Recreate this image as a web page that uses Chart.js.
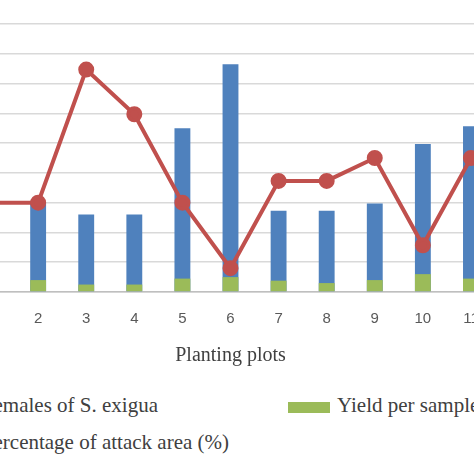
<!DOCTYPE html>
<html><head><meta charset="utf-8">
<script src="https://cdn.jsdelivr.net/npm/chart.js@4"></script>
<style>
html,body{margin:0;width:474px;height:474px;overflow:hidden;background:#fff;position:relative}
#wrap{position:absolute;left:-44px;top:0;width:549px;height:372px}
.lg{position:absolute;font-family:"Liberation Serif",serif;font-size:21px;color:#404040;white-space:nowrap}
.box{position:absolute;width:42px;height:11px;background:#9BBB59}
</style></head><body>
<div id="wrap"><canvas id="c"></canvas></div>
<div class="lg" style="right:316px;top:393px">Number of females of S. exigua</div>
<div class="box" style="left:288px;top:402px"></div>
<div class="lg" style="left:337px;top:393px">Yield per sample (kg)</div>
<div class="lg" style="right:282px;top:430px;transform:translateX(37px)">Percentage of attack area (%)</div>
<script>
const categories=["1","2","3","4","5","6","7","8","9","10","11"];
const females=[3.2,3.0,2.6,2.6,5.5,7.65,2.73,2.73,2.97,4.97,5.57];
const yieldKg=[0.4,0.4,0.25,0.25,0.45,0.5,0.38,0.3,0.4,0.6,0.45];
const attack=[3.0,3.0,7.47,5.97,3.0,0.8,3.73,3.73,4.5,1.57,4.5];
new Chart(document.getElementById('c'),{
 data:{labels:categories,datasets:[
  {type:'line',label:'Percentage of attack area (%)',data:attack,borderColor:'#C0504D',backgroundColor:'#C0504D',borderWidth:4,pointRadius:6,pointHoverRadius:6,order:0},
  {type:'bar',label:'Yield per sample (kg)',data:yieldKg,backgroundColor:'#9BBB59',barPercentage:0.33,categoryPercentage:1,order:1},
  {type:'bar',label:'Number of females of S. exigua',data:females,backgroundColor:'#4F81BD',barPercentage:0.33,categoryPercentage:1,order:2}
 ]},
 options:{responsive:true,maintainAspectRatio:false,animation:false,
  layout:{padding:{top:24,left:0,right:0,bottom:0}},
  plugins:{legend:{display:false},tooltip:{enabled:false}},
  scales:{
   x:{stacked:true,grid:{display:false},border:{color:'#BFBFBF',width:1.5},
      ticks:{color:'#595959',font:{family:'Liberation Sans',size:15},padding:10},
      title:{display:true,text:'Planting plots',color:'#404040',font:{family:'Liberation Serif',size:20},padding:{top:6}}},
   y:{stacked:false,min:0,max:9,display:true,ticks:{display:false,stepSize:1},
      grid:{color:'#D9D9D9',lineWidth:1.5,drawTicks:false},border:{display:false}}
  }}
});
</script></body></html>
